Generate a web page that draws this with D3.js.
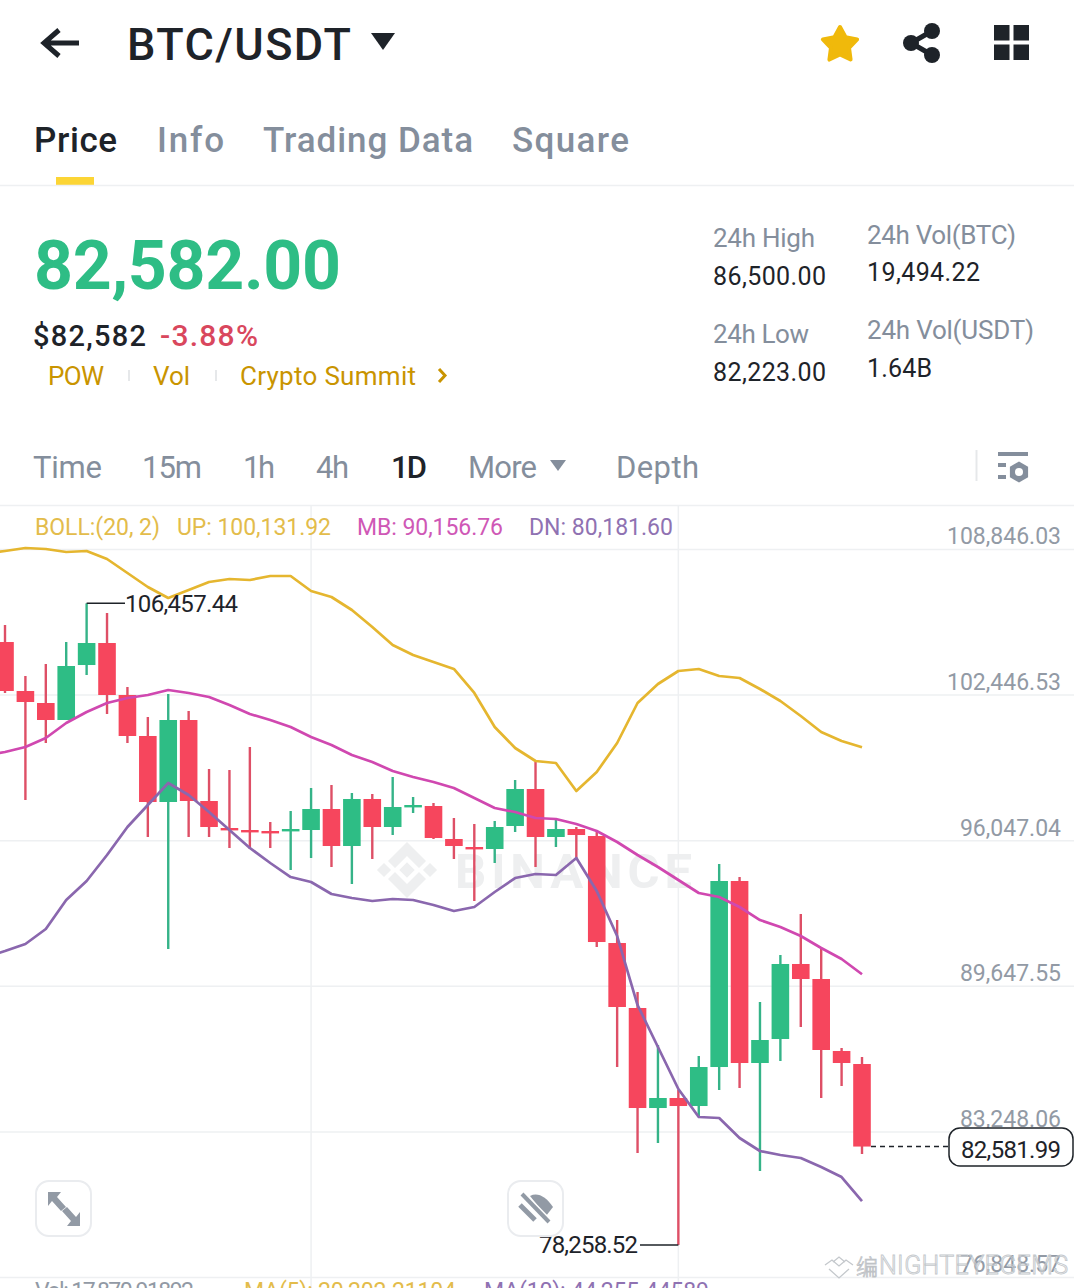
<!doctype html>
<html>
<head>
<meta http-equiv="Content-Type" content="text/html;charset=utf-8" />
<title>BTC/USDT</title>
<script src="https://d3js.org/d3.v7.min.js"></script>
<style type="text/css">
html, body { margin: 0; padding: 0; background: #fff; overflow: hidden; }
svg { display: block; }
text { font-family: Roboto, "Noto Sans CJK SC", sans-serif; }
</style>
</head>
<body>
<div id="chart"></div>
<script type="text/javascript">

// one row per daily candle, oldest first
var opens = [104758,102605,102077,101330,103747,104714,102429,100627,97726,101330,97770,96583,96495,96451,96495,96495,97418,95792,97858,96627,97550,97550,96100,95748,95660,96671,98297,96188,96539,96231,91528,88672,84276,84716,84364,86078,94254,86254,87309,90606,89946,86782,86210];
var highs = [105506,103264,103791,104758,106457.44,106033,102780,101462,102473,101726,99176,99132,100143,96847,97330,98341,98473,98121,98078,98825,97946,97682,97023,96759,96891,98693,99484,96935,96627,96451,92539,89375,87045,85067,86562,95001,94429,88935,91001,92803,91309,86913,86518];
var lows = [102517,97814,100319,101330,103308,101594,100319,96188,91265,96188,96188,95704,95660,95704,94737,95265,94869,94122,95221,96275,97242,96100,95221,93375,95045,96407,94869,95748,95265,91353,86078,82298,82738,78258.52,83925,85067,85155,81507,86342,87836,84716,85243,82254];
var closes = [102605,102121,101330,103703,104714,102429,100627,97726,101330,97770,96627,96539,96451,96407,96539,97418,95792,97858,96627,97506,97594,96144,95792,95704,96627,98297,96188,96539,96275,91572,88716,84276,84716,84364,86078,94254,86254,87265,90606,89946,86826,86254,82582];

// bands start one day earlier than the candles, that day is just off the left edge
var bollUp = [108626,108758,108890,108846,108714,108758,108406,107791,107176,106692,107044,107396,107527,107483,107659,107659,107000,106736,106165,105418,104627,104187,103879,103572,102517,101022,100099,99528,99440,98209,99044,100319,102077,102912,103484,103572,103264,103176,102693,102165,101506,100803,100407,100131.92];
var bollMid = [99748,99924,100143,100539,101198,101682,102077,102297,102429,102649,102517,102341,101989,101594,101330,101022,100583,100231,99792,99484,99088,98825,98605,98341,97902,97462,97286,97023,96979,96759,96451,95968,95396,94869,94298,93726,93550,93111,92539,92232,91836,91309,90825,90156.76];
var bollDn = [90901,91177,91485,92144,93418,94254,95396,96627,97594,98561,98034,97286,96495,95704,95045,94429,94210,93682,93506,93375,93462,93418,93199,92935,93111,93770,94385,94561,94517,95265,93814,91836,88803,86957,85111,83881,83837,82958,82386,82210,82079,81683,81243,80181.60];

var priceTicks = [108846.03,102446.53,96047.04,89647.55,83248.06,76848.57];
var timeGridIdx = [15,33];
var lastPrice = 82581.99;
var maxPrice = 106457.44;
var minPrice = 78258.52;

var tabs = ["Price","Info","Trading Data","Square"];
var intervals = ["Time","15m","1h","4h","1D","More","Depth"];

var w = 1074, h = 1288;
var dark = "#1E2329", grey = "#848E9C", axisGrey = "#929AA5", hair = "#EEF0F2";
var red = "#F6465D", green = "#2EBD85", gold = "#C99400";
var wickRed = "#DE4F66", wickGreen = "#35B388";
var upCol = "#E5B62F", midCol = "#D048B0", dnCol = "#8A67AE";

var svg = d3.select("#chart").append("svg").attr("width", w).attr("height", h);

var x = d3.scaleLinear().domain([0, opens.length - 1]).range([5, 862]);
var y = d3.scaleLinear().domain([priceTicks[0], priceTicks[5]]).range([549, 1277]);

function label(px, py, str, size, col, weight, width, anchor) {
	var t = svg.append("text").attr("x", px - 1).attr("y", py).text(str)
		.attr("font-size", size).attr("fill", col).attr("font-weight", weight || 400);
	if (width) t.attr("textLength", width + 1).attr("lengthAdjust", "spacing");
	if (anchor) t.attr("text-anchor", anchor);
	return t;
}

// ---- header ----
svg.append("path").attr("d", "M79 43H44M59 30L44 43L59 56").attr("fill", "none")
	.attr("stroke", dark).attr("stroke-width", 5);
label(128, 60, "BTC/USDT", 45, dark, 500, 223);
svg.append("path").attr("d", "M371 33H395L383 50Z").attr("fill", dark);

var star = d3.range(10).map(function(i) {
	var r = i % 2 ? 9.5 : 18, a = -Math.PI / 2 + i * Math.PI / 5;
	return [840 + r * Math.cos(a), 45 + r * Math.sin(a)];
});
svg.append("path").attr("d", d3.line()(star) + "Z").attr("fill", "#F0B90B")
	.attr("stroke", "#F0B90B").attr("stroke-width", 4).attr("stroke-linejoin", "round");

svg.append("path").attr("d", "M932 31L911 43L932 55").attr("fill", "none").attr("stroke", dark).attr("stroke-width", 5);
[[932,31],[911,43],[932,55]].forEach(function(c) {
	svg.append("circle").attr("cx", c[0]).attr("cy", c[1]).attr("r", 8).attr("fill", dark);
});
[[994,25],[1013.5,25],[994,44.5],[1013.5,44.5]].forEach(function(c) {
	svg.append("rect").attr("x", c[0]).attr("y", c[1]).attr("width", 15.5).attr("height", 15.5).attr("fill", dark);
});

var tabX = [35,158,264,513], tabW = [82,66,209,116];
tabs.forEach(function(s, i) {
	label(tabX[i], 152, s, 35, i ? grey : dark, 500, tabW[i]);
});
svg.append("rect").attr("x", 56).attr("y", 177).attr("width", 38).attr("height", 8).attr("fill", "#FCD535");
svg.append("line").attr("x1", 0).attr("x2", w).attr("y1", 185.5).attr("y2", 185.5).attr("stroke", hair).attr("stroke-width", 1.5);

// ---- ticker ----
label(35, 289, "82,582.00", 68, green, 700, 306);
label(34, 346, "$82,582", 29, dark, 500, 112);
label(161, 346, "-3.88%", 30, "#D9475D", 500, 97);
label(49, 385, "POW", 26, gold, 400, 55);
label(154, 385, "Vol", 26, gold, 400, 36);
label(241, 385, "Crypto Summit", 26, gold, 400, 175);
[129,216].forEach(function(sx) {
	svg.append("line").attr("x1", sx).attr("x2", sx).attr("y1", 370).attr("y2", 381).attr("stroke", "#E6E8EA").attr("stroke-width", 2);
});
svg.append("path").attr("d", "M439 369L445 375.5L439 382").attr("fill", "none").attr("stroke", gold).attr("stroke-width", 3);

label(714, 247, "24h High", 26, grey, 400, 101);
label(714, 285, "86,500.00", 25, dark, 400, 112);
label(714, 343, "24h Low", 26, grey, 400, 95);
label(714, 381, "82,223.00", 25, dark, 400, 112);
label(868, 244, "24h Vol(BTC)", 26, grey, 400, 148);
label(868, 281, "19,494.22", 25, dark, 400, 112);
label(868, 339, "24h Vol(USDT)", 26, grey, 400, 166);
label(868, 377, "1.64B", 25, dark, 400, 64);

// ---- interval row ----
var intX = [34,143,244,317,392,469,617], intW = [68,59,31,32,35,68,82];
intervals.forEach(function(s, i) {
	label(intX[i], 478, s, 31, s === "1D" ? dark : grey, s === "1D" ? 500 : 400, intW[i]);
});
svg.append("path").attr("d", "M550 460H566L558 471Z").attr("fill", grey);
svg.append("line").attr("x1", 976.5).attr("x2", 976.5).attr("y1", 450).attr("y2", 481).attr("stroke", "#E6E8EA").attr("stroke-width", 2);
svg.append("rect").attr("x", 998).attr("y", 452).attr("width", 30).attr("height", 4).attr("fill", grey);
svg.append("rect").attr("x", 998).attr("y", 463).attr("width", 8).attr("height", 4).attr("fill", grey);
svg.append("rect").attr("x", 998).attr("y", 475).attr("width", 8).attr("height", 4).attr("fill", grey);
var nut = d3.range(6).map(function(i) {
	var a = -Math.PI / 2 + i * Math.PI / 3;
	return [1019 + 10.5 * Math.cos(a), 472 + 10.5 * Math.sin(a)];
});
svg.append("path").attr("d", d3.line()(nut) + "Z").attr("fill", grey);
svg.append("circle").attr("cx", 1019).attr("cy", 472).attr("r", 4).attr("fill", "#fff");
svg.append("line").attr("x1", 0).attr("x2", w).attr("y1", 505.5).attr("y2", 505.5).attr("stroke", hair).attr("stroke-width", 1.5);

// ---- plot ----
svg.append("g").attr("class", "grid").attr("transform", "translate(" + w + ",0)")
	.call(d3.axisLeft(y).tickValues(priceTicks).tickSize(w).tickFormat(""))
	.call(function(g) {
		g.select(".domain").remove();
		g.selectAll("line").attr("stroke", hair).attr("stroke-width", 1.5);
	});
svg.selectAll("line.vgrid").data(timeGridIdx).enter().append("line").attr("class", "vgrid")
	.attr("x1", function(d) { return x(d); }).attr("x2", function(d) { return x(d); })
	.attr("y1", 505).attr("y2", h).attr("stroke", hair).attr("stroke-width", 1.5);

// watermark sits under the candles
var wm = svg.append("g").attr("fill", "#EEEFF0");
[[407,870,5.5],[384,870,5],[430,870,5]].forEach(function(c) {
	wm.append("rect").attr("x", -c[2]).attr("y", -c[2]).attr("width", c[2] * 2).attr("height", c[2] * 2)
		.attr("transform", "translate(" + c[0] + "," + c[1] + ") rotate(45)");
});
wm.append("path").attr("d", "M407 842L426 861L419 868L407 856L395 868L388 861Z");
wm.append("path").attr("d", "M407 898L426 879L419 872L407 884L395 872L388 879Z");
wm.append("text").attr("x", 455).attr("y", 888).text("BINANCE").attr("font-size", 49)
	.attr("font-weight", 700).attr("textLength", 237).attr("lengthAdjust", "spacing");

var idx = d3.range(opens.length);
function candleCol(i) { return closes[i] >= opens[i] ? green : red; }
function wickCol(i) { return closes[i] >= opens[i] ? wickGreen : wickRed; }

svg.selectAll("line.wick").data(idx).enter().append("line").attr("class", "wick")
	.attr("x1", function(i) { return x(i); }).attr("x2", function(i) { return x(i); })
	.attr("y1", function(i) { return y(highs[i]); }).attr("y2", function(i) { return y(lows[i]); })
	.attr("stroke", wickCol).attr("stroke-width", 2.4);
svg.selectAll("rect.body").data(idx).enter().append("rect").attr("class", "body")
	.attr("x", function(i) { return x(i) - 8.8; }).attr("width", 17.6)
	.attr("y", function(i) { return y(Math.max(opens[i], closes[i])); })
	.attr("height", function(i) { return Math.max(2.4, Math.abs(y(opens[i]) - y(closes[i]))); })
	.attr("fill", candleCol);

var lineGen = d3.line().x(function(d, i) { return x(i - 1); }).y(function(d) { return y(d); });
[[bollUp, upCol],[bollMid, midCol],[bollDn, dnCol]].forEach(function(s) {
	svg.append("path").attr("d", lineGen(s[0])).attr("fill", "none").attr("stroke", s[1])
		.attr("stroke-width", 2.7).attr("stroke-linejoin", "round");
});

// extrema callouts
svg.append("path").attr("d", "M" + x(4) + " " + y(maxPrice) + "H125").attr("fill", "none").attr("stroke", dark).attr("stroke-width", 1.5);
label(126, 612, "106,457.44", 24, dark, 400, 112);
svg.append("path").attr("d", "M" + x(33) + " " + y(minPrice) + "H640").attr("fill", "none").attr("stroke", dark).attr("stroke-width", 1.5);
label(540, 1253, "78,258.52", 24, dark, 400, 98);

// price axis
svg.append("g").attr("class", "axis").attr("transform", "translate(1061,0)")
	.call(d3.axisLeft(y).tickValues(priceTicks).tickSize(0).tickPadding(0).tickFormat(d3.format(",.2f")))
	.call(function(g) {
		g.select(".domain").remove();
		g.selectAll("text").attr("font-size", 23).attr("fill", axisGrey)
			.attr("font-family", "Roboto, sans-serif").attr("dy", "-0.22em");
	});

// last price tag
svg.append("line").attr("x1", x(42) + 9).attr("x2", 949).attr("y1", y(lastPrice)).attr("y2", y(lastPrice))
	.attr("stroke", dark).attr("stroke-width", 1.5).attr("stroke-dasharray", "5 4");
svg.append("rect").attr("x", 949).attr("y", 1128).attr("width", 124).attr("height", 38).attr("rx", 11)
	.attr("fill", "#fff").attr("stroke", dark).attr("stroke-width", 1.5);
label(962, 1158, d3.format(",.2f")(lastPrice), 24, dark, 400, 99);

// legend
var lastBand = bollUp.length - 1;
label(36, 535, "BOLL:(20, 2)", 23, "#E3BC4B", 400, 124);
label(178, 535, "UP: " + d3.format(",.2f")(bollUp[lastBand]), 23, "#E3BC4B", 400, 153);
label(358, 535, "MB: " + d3.format(",.2f")(bollMid[lastBand]), 23, "#CF58B6", 400, 145);
label(530, 535, "DN: " + d3.format(",.2f")(bollDn[lastBand]), 23, "#8F72B2", 400, 143);

// floating buttons
[36,508].forEach(function(bx) {
	svg.append("rect").attr("x", bx).attr("y", 1181).attr("width", 55).attr("height", 55).attr("rx", 13)
		.attr("fill", "#fff").attr("stroke", "#EAECEF").attr("stroke-width", 2);
});
svg.append("path").attr("d", "M48 1192H61L57 1197L66 1207L61 1211L52 1201L48 1206Z").attr("fill", axisGrey);
svg.append("path").attr("d", "M80 1226H67L71 1221L62 1211L67 1207L76 1217L80 1212Z").attr("fill", axisGrey);
svg.append("path").attr("d", "M530 1196C538 1192 546 1197 553 1207L546 1216Z").attr("fill", axisGrey);
svg.append("line").attr("x1", 519).attr("y1", 1191).attr("x2", 551).attr("y2", 1224).attr("stroke", "#fff").attr("stroke-width", 7);
svg.append("line").attr("x1", 522).attr("y1", 1194).attr("x2", 549).attr("y2", 1222).attr("stroke", axisGrey).attr("stroke-width", 4);
svg.append("line").attr("x1", 520).attr("y1", 1205).attr("x2", 535).attr("y2", 1220).attr("stroke", axisGrey).attr("stroke-width", 5);

// bottom row, cut off by the window
label(36, 1299, "Vol: 17,870.91892", 23, axisGrey, 400, 158);
label(245, 1299, "MA(5): 20,202.21104", 23, "#E3BC4B", 400, 211);
label(485, 1299, "MA(10): 44,255.44589", 23, "#8F72B2", 400, 224);

// repost mark
label(880, 1274, "NIGHTEYEGEMS", 25, "none", 300, 188).attr("stroke", "#C4C8CC").attr("stroke-width", 0.9);
label(857, 1275, "编", 22, "none", 300).attr("stroke", "#BEC2C6").attr("stroke-width", 0.8);
svg.append("path").attr("d", "M833 1262L839 1257L845 1262M825 1265L832 1260L839 1266L846 1260L853 1265M829 1269L839 1278L849 1269")
	.attr("fill", "none").attr("stroke", "#C4C8CC").attr("stroke-width", 1.3);

</script>
</body>
</html>
